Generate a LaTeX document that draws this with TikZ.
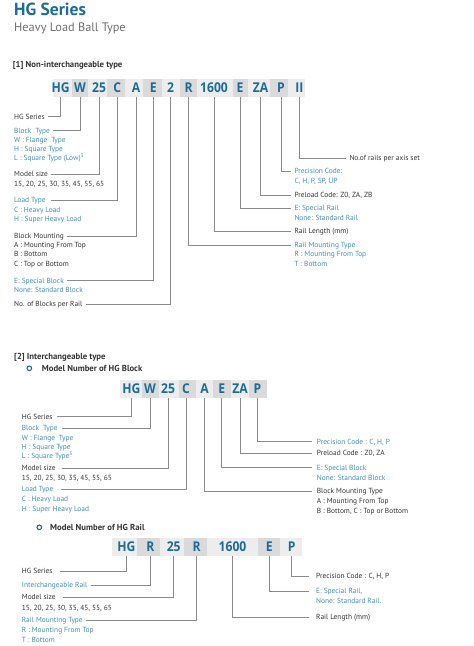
\documentclass[tikz,border=0pt]{standalone}
\usepackage{fontspec}
\setmainfont{PT Sans}
\newfontfamily\codefam[FakeStretch=0.9]{Open Sans}
\definecolor{codeblue}{HTML}{1C6B98}
\definecolor{lblue}{HTML}{3E8DBD}
\definecolor{tdark}{HTML}{333333}
\definecolor{subgray}{HTML}{6E6E6E}
\definecolor{linegray}{HTML}{8A8A8A}
\definecolor{boxL}{HTML}{EDEDED}
\definecolor{boxD}{HTML}{DADADA}
\begin{document}
\begin{tikzpicture}[x=1pt,y=-1pt,
  code/.style={font=\codefam\bfseries\fontsize{13.5}{16}\selectfont, text=codeblue, inner sep=0pt, text height=9.6pt, text depth=0pt, minimum height=18pt},
  lbl/.style={font=\fontsize{7.4}{8.5}\selectfont, text=tdark, inner sep=0pt, text height=5.2pt, text depth=0pt, anchor=west},
  blbl/.style={lbl, text=lblue},
  head/.style={font=\bfseries\fontsize{8.7}{10}\selectfont, text=tdark, inner sep=0pt, text height=6pt, text depth=0pt, anchor=west},
  conn/.style={draw=linegray, line width=0.8pt},
  bullet/.style={circle, draw=codeblue, line width=1.1pt, minimum size=4.6pt, inner sep=0pt},
  title/.style={font=\bfseries\fontsize{17.5}{20}\selectfont, text=codeblue, inner sep=0pt, anchor=base west},
  subtitle/.style={font=\fontsize{12.3}{14}\selectfont, text=subgray, inner sep=0pt, anchor=base west}
]
\useasboundingbox (0,0) rectangle (474,646);

% titles
\node[title] (title) at (14,15.9) {HG Series};
\node[subtitle] (subtitle) at (14,31.5) {Heavy Load Ball Type};
\node[head] (h1) at (12.7,64) {[1] Non-interchangeable type};

% ---------- row 1 background boxes
\foreach \a/\b/\c in {52.7/71.7/boxL, 71.7/88.3/boxD, 88.3/106.7/boxL, 106.7/125/boxD, 125/143/boxL, 143/161.7/boxD, 161.7/180/boxL, 180/196.7/boxD, 196.7/233/boxL, 233/248/boxD, 248/270/boxL, 270/288/boxD, 288/305/boxL}
  \fill[\c] (\a,78.5) rectangle (\b,96.5);

% row 1 codes
\node[code] (a1) at (60.7,87.5) {HG};
\node[code] (a2) at (80,87.5) {W};
\node[code] (a3) at (99,87.5) {25};
\node[code] (a4) at (117.3,87.5) {C};
\node[code] (a5) at (136,87.5) {A};
\node[code] (a6) at (153.3,87.5) {E};
\node[code] (a7) at (170.7,87.5) {2};
\node[code] (a8) at (188.7,87.5) {R};
\node[code] (a9) at (214,87.5) {1600};
\node[code] (a10) at (240,87.5) {E};
\node[code] (a11) at (260.5,87.5) {ZA};
\node[code] (a12) at (281,87.5) {P};
\node[code] (a13) at (299.3,87.5) {II};

% row 1 left labels
\node[lbl] (la1) at (14,116.7) {HG Series};
\node[blbl] (la2) at (14,130.7) {Block\ \ Type};
\node[blbl] (la2b) at (14,140) {W : Flange\ \ Type};
\node[blbl] (la2c) at (14,149.3) {H : Square Type};
\node[blbl] (la2d) at (14,158.3) {L : Square Type (Low)\textsuperscript{3}};
\node[lbl] (la3) at (14,174) {Model size};
\node[lbl] (la3b) at (14,184) {15, 20, 25, 30, 35, 45, 55, 65};
\node[blbl] (la4) at (14,200) {Load Type};
\node[blbl] (la4b) at (14,210) {C : Heavy Load};
\node[blbl] (la4c) at (14,219.3) {H : Super Heavy Load};
\node[lbl] (la5) at (14,236) {Block Mounting};
\node[lbl] (la5b) at (14,245.3) {A : Mounting From Top};
\node[lbl] (la5c) at (14,254.3) {B : Bottom};
\node[lbl] (la5d) at (14,263.7) {C : Top or Bottom};
\node[blbl] (la6) at (14,280.7) {E: Special Block};
\node[blbl] (la6b) at (14,290.3) {None: Standard Block};
\node[lbl] (la7) at (14,304) {No. of Blocks per Rail};

% row 1 right labels
\node[lbl] (ra13) at (349.3,158.3) {No.of rails per axis set};
\node[blbl] (ra12) at (294.3,171.3) {Precision Code:};
\node[blbl] (ra12b) at (294.3,180.7) {C, H, P, SP, UP};
\node[lbl] (ra11) at (294.3,195) {Preload Code: Z0, ZA, ZB};
\node[blbl] (ra10) at (294.3,208.3) {E: Special Rail};
\node[blbl] (ra10b) at (294.3,217.7) {None: Standard Rail};
\node[lbl] (ra9) at (294.3,231) {Rail Length (mm)};
\node[blbl] (ra8) at (294.3,245) {Rail Mounting Type};
\node[blbl] (ra8b) at (294.3,254.3) {R : Mounting From Top};
\node[blbl] (ra8c) at (294.3,263.7) {T : Bottom};

% row 1 connectors
\draw[conn] (a1.south) |- ([xshift=3pt]la1.east);
\draw[conn] (a2.south) |- ([xshift=3pt]la2.east);
\draw[conn] (a3.south) |- ([xshift=3pt]la3.east);
\draw[conn] (a4.south) |- ([xshift=5pt]la4.east);
\draw[conn] (a5.south) |- ([xshift=3pt]la5.east);
\draw[conn] (a6.south) |- ([xshift=3pt]la6.east);
\draw[conn] (a7.south) |- ([xshift=3pt]la7.east);
\draw[conn] (a13.south) |- ([xshift=-3.6pt]ra13.west);
\draw[conn] (a12.south) |- ([xshift=-3.3pt]ra12.west);
\draw[conn] (a11.south) |- ([xshift=-3.3pt]ra11.west);
\draw[conn] (a10.south) |- ([xshift=-3.3pt]ra10.west);
\draw[conn] (a9.south) |- ([xshift=-3.3pt]ra9.west);
\draw[conn] (a8.south) |- ([xshift=-3.3pt]ra8.west);

% ---------- section 2
\node[head] (h2) at (14,356) {[2] Interchangeable type};
\node[bullet] (bu1) at (29.3,368.3) {};
\node[head] (h2a) at (41.7,368.3) {Model Number of HG Block};

\foreach \a/\b/\c in {120/142/boxL, 142/159/boxD, 159/179/boxL, 179/196/boxD, 196/213/boxL, 213/231/boxD, 231/249/boxL, 249/267/boxD}
  \fill[\c] (\a,380) rectangle (\b,398);

\node[code] (b1) at (131.5,389) {HG};
\node[code] (b2) at (150,389) {W};
\node[code] (b3) at (168,389) {25};
\node[code] (b4) at (186,389) {C};
\node[code] (b5) at (204.5,389) {A};
\node[code] (b6) at (221.7,389) {E};
\node[code] (b7) at (240,389) {ZA};
\node[code] (b8) at (257.5,389) {P};

\node[lbl] (lb1) at (21.7,416.7) {HG Series};
\node[blbl] (lb2) at (21.7,428.3) {Block\ \ Type};
\node[blbl] (lb2b) at (21.7,437.7) {W : Flange\ \ Type};
\node[blbl] (lb2c) at (21.7,446.7) {H : Square Type};
\node[blbl] (lb2d) at (21.7,455.7) {L : Square Type\textsuperscript{3}};
\node[lbl] (lb3) at (21.7,468.3) {Model size};
\node[lbl] (lb3b) at (21.7,478.3) {15, 20, 25, 30, 35, 45, 55, 65};
\node[blbl] (lb4) at (21.7,489) {Load Type};
\node[blbl] (lb4b) at (21.7,499) {C : Heavy Load};
\node[blbl] (lb4c) at (21.7,509) {H : Super Heavy Load};

\node[blbl] (rb8) at (316.7,441.7) {Precision Code : C, H, P};
\node[lbl] (rb7) at (316.7,453.3) {Preload Code : Z0, ZA};
\node[blbl] (rb6) at (316.7,467.7) {E: Special Block};
\node[blbl] (rb6b) at (316.7,477.7) {None: Standard Block};
\node[lbl] (rb5) at (316.7,491) {Block Mounting Type};
\node[lbl] (rb5b) at (316.7,501) {A : Mounting From Top};
\node[lbl] (rb5c) at (316.7,510.7) {B : Bottom, C : Top or Bottom};

\draw[conn] (b1.south) |- ([xshift=4pt]lb1.east);
\draw[conn] (b2.south) |- ([xshift=4pt]lb2.east);
\draw[conn] (b3.south) |- ([xshift=6pt]lb3.east);
\draw[conn] (b4.south) |- ([xshift=8pt]lb4.east);
\draw[conn] (b8.south) |- ([xshift=-5pt]rb8.west);
\draw[conn] (b7.south) |- ([xshift=-5pt]rb7.west);
\draw[conn] (b6.south) |- ([xshift=-5pt]rb6.west);
\draw[conn] (b5.south) |- ([xshift=-5pt]rb5.west);

% ---------- section 3
\node[bullet] (bu2) at (39.3,527.3) {};
\node[head] (h3) at (50,527.3) {Model Number of HG Rail};

\foreach \a/\b/\c in {112/136.5/boxL, 136.5/160/boxD, 160/184/boxL, 184/207/boxD, 207/258/boxL, 258/280/boxD, 280/302/boxL}
  \fill[\c] (\a,538) rectangle (\b,556);

\node[code] (c1) at (126.3,547) {HG};
\node[code] (c2) at (150.5,547) {R};
\node[code] (c3) at (173.7,547) {25};
\node[code] (c4) at (196.7,547) {R};
\node[code] (c5) at (232.5,547) {1600};
\node[code] (c6) at (269.3,547) {E};
\node[code] (c7) at (291.7,547) {P};

\node[lbl] (lc1) at (21.7,571.3) {HG Series};
\node[blbl] (lc2) at (21.7,585) {Interchangeable Rail};
\node[lbl] (lc3) at (21.7,597.3) {Model size};
\node[lbl] (lc3b) at (21.7,608.3) {15, 20, 25, 30, 35, 45, 55, 65};
\node[blbl] (lc4) at (21.7,620) {Rail Mounting Type};
\node[blbl] (lc4b) at (21.7,630) {R : Mounting From Top};
\node[blbl] (lc4c) at (21.7,640) {T : Bottom};

\node[lbl] (rc7) at (316,576) {Precision Code : C, H, P};
\node[blbl] (rc6) at (316,591) {E: Special Rail,};
\node[blbl] (rc6b) at (316,601) {None: Standard Rail.};
\node[lbl] (rc5) at (316,617.3) {Rail Length (mm)};

\draw[conn] (c1.south) |- ([xshift=7pt]lc1.east);
\draw[conn] (c2.south) |- ([xshift=3.5pt]lc2.east);
\draw[conn] (c3.south) |- ([xshift=7pt]lc3.east);
\draw[conn] (c4.south) |- ([xshift=3.5pt]lc4.east);
\draw[conn] (c7.south) |- ([xshift=-7pt]rc7.west);
\draw[conn] (c6.south) |- ([xshift=-7pt]rc6.west);
\draw[conn] (c5.south) |- ([xshift=-7pt]rc5.west);
\end{tikzpicture}
\end{document}
